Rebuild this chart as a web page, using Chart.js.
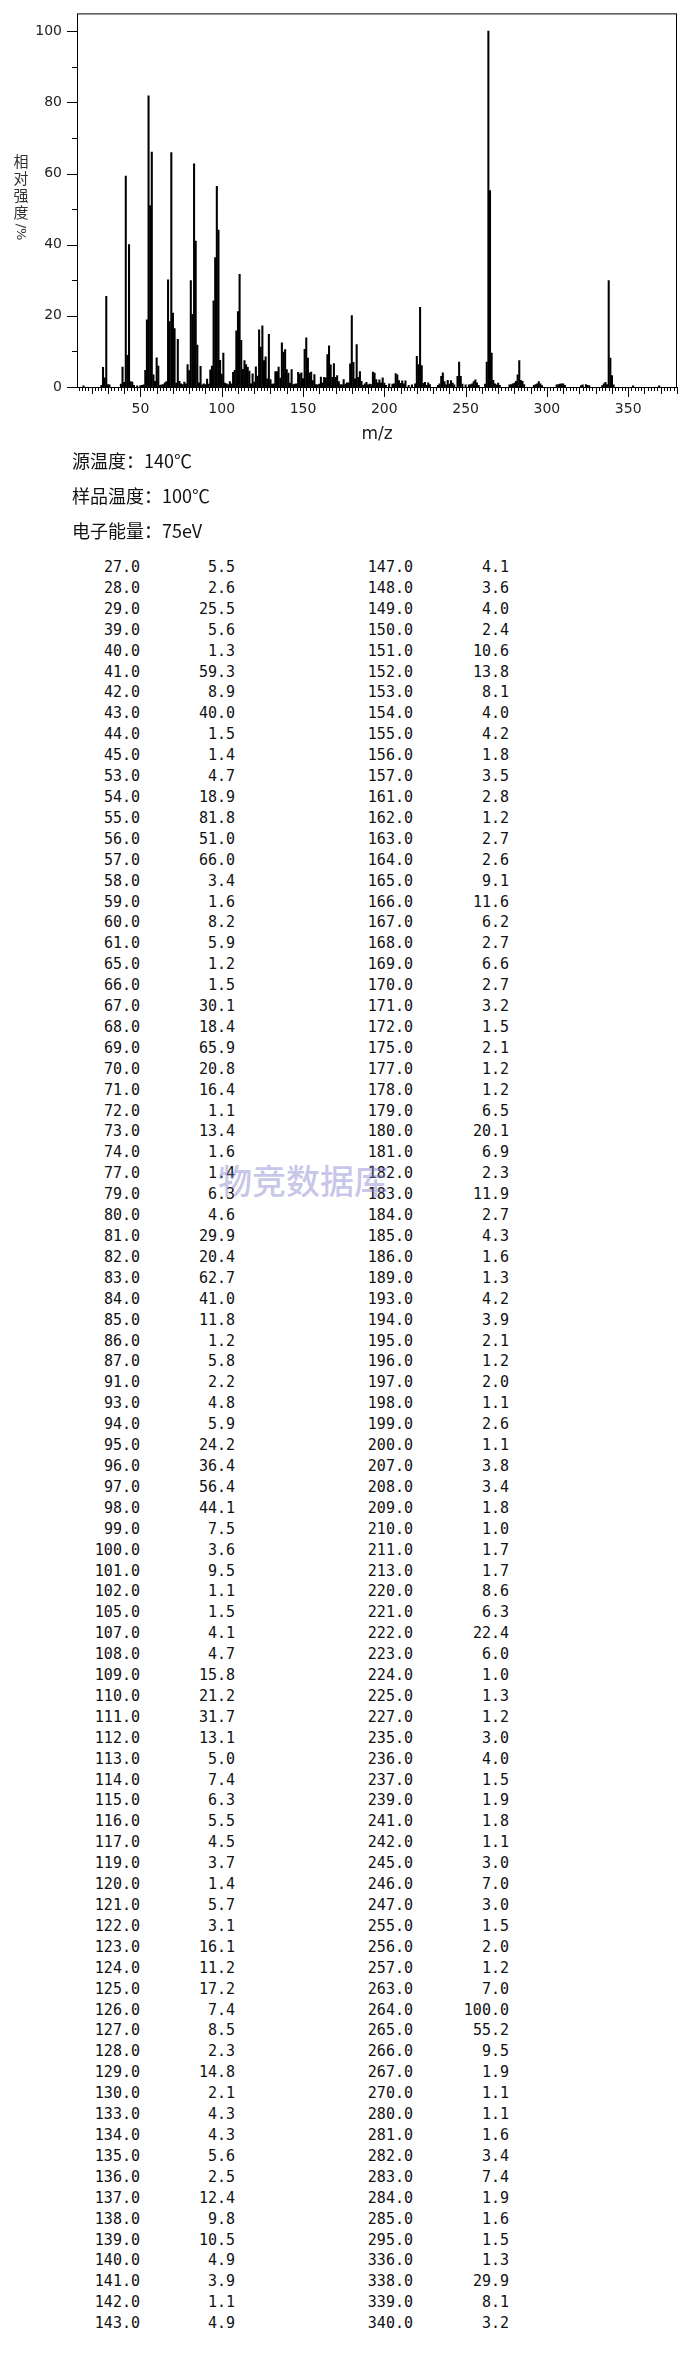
<!DOCTYPE html>
<html lang="zh">
<head>
<meta charset="UTF-8" />
<title>质谱图</title>
<script src="https://cdn.jsdelivr.net/npm/chart.js"></script>
<style>
  body { margin: 0; background: #fff; width: 680px; height: 2353px; position: relative; overflow: hidden; }
  #chartBox { position: absolute; left: 0; top: 0; width: 680px; height: 450px; }
  #yTitle { position: absolute; left: 12px; top: 152px; width: 18px; text-align: center;
            font: 15px "Noto Sans CJK SC", sans-serif; color: #333; }
  #yTitle div { height: 17px; line-height: 17px; }
  #yTitle .rot { height: 24px; position: relative; }
  #yTitle .rot span { position: absolute; left: 50%; top: 50%; white-space: nowrap;
                      transform: translate(-50%, -50%) rotate(90deg); font-family: "DejaVu Sans", sans-serif; font-size: 13px; }
  .cond { position: absolute; left: 72px; font: 18px "Noto Sans CJK SC", sans-serif; color: #111; }
  .col { position: absolute; top: 557px; text-align: right; font: 15px "DejaVu Sans Mono", monospace;
         line-height: 20.9px; color: #111; white-space: pre; }
  #mark { position: absolute; left: 218px; top: 1155px; font: 500 34px "Noto Sans CJK SC", sans-serif;
          color: rgba(130, 125, 205, 0.45); }
</style>
</head>
<body>
<div id="chartBox"><canvas id="ms"></canvas></div>
<div id="yTitle"><div>相</div><div>对</div><div>强</div><div>度</div><div class="rot"><span>/%</span></div></div>
<div id="conds"></div>
<div id="table"></div>
<div id="mark">物竞数据库</div>

<script>
// peaks from the listing (m/z, relative intensity %)
const mzValues = [27, 28, 29, 39, 40, 41, 42, 43, 44, 45, 53, 54, 55, 56, 57, 58, 59, 60, 61, 65, 66,
  67, 68, 69, 70, 71, 72, 73, 74, 77, 79, 80, 81, 82, 83, 84, 85, 86, 87, 91, 93, 94,
  95, 96, 97, 98, 99, 100, 101, 102, 105, 107, 108, 109, 110, 111, 112, 113, 114, 115, 116, 117, 119,
  120, 121, 122, 123, 124, 125, 126, 127, 128, 129, 130, 133, 134, 135, 136, 137, 138, 139, 140, 141, 142, 143,
  147, 148, 149, 150, 151, 152, 153, 154, 155, 156, 157, 161, 162, 163, 164, 165, 166, 167, 168, 169, 170,
  171, 172, 175, 177, 178, 179, 180, 181, 182, 183, 184, 185, 186, 189, 193, 194, 195, 196, 197, 198, 199,
  200, 207, 208, 209, 210, 211, 213, 220, 221, 222, 223, 224, 225, 227, 235, 236, 237, 239, 241, 242, 245,
  246, 247, 255, 256, 257, 263, 264, 265, 266, 267, 270, 280, 281, 282, 283, 284, 285, 295, 336, 338, 339, 340];
const intensities = [5.5, 2.6, 25.5, 5.6, 1.3, 59.3, 8.9, 40.0, 1.5, 1.4, 4.7, 18.9, 81.8, 51.0, 66.0, 3.4, 1.6, 8.2, 5.9, 1.2, 1.5,
  30.1, 18.4, 65.9, 20.8, 16.4, 1.1, 13.4, 1.6, 1.4, 6.3, 4.6, 29.9, 20.4, 62.7, 41.0, 11.8, 1.2, 5.8, 2.2, 4.8, 5.9,
  24.2, 36.4, 56.4, 44.1, 7.5, 3.6, 9.5, 1.1, 1.5, 4.1, 4.7, 15.8, 21.2, 31.7, 13.1, 5.0, 7.4, 6.3, 5.5, 4.5, 3.7,
  1.4, 5.7, 3.1, 16.1, 11.2, 17.2, 7.4, 8.5, 2.3, 14.8, 2.1, 4.3, 4.3, 5.6, 2.5, 12.4, 9.8, 10.5, 4.9, 3.9, 1.1, 4.9,
  4.1, 3.6, 4.0, 2.4, 10.6, 13.8, 8.1, 4.0, 4.2, 1.8, 3.5, 2.8, 1.2, 2.7, 2.6, 9.1, 11.6, 6.2, 2.7, 6.6, 2.7,
  3.2, 1.5, 2.1, 1.2, 1.2, 6.5, 20.1, 6.9, 2.3, 11.9, 2.7, 4.3, 1.6, 1.3, 4.2, 3.9, 2.1, 1.2, 2.0, 1.1, 2.6,
  1.1, 3.8, 3.4, 1.8, 1.0, 1.7, 1.7, 8.6, 6.3, 22.4, 6.0, 1.0, 1.3, 1.2, 3.0, 4.0, 1.5, 1.9, 1.8, 1.1, 3.0,
  7.0, 3.0, 1.5, 2.0, 1.2, 7.0, 100.0, 55.2, 9.5, 1.9, 1.1, 1.1, 1.6, 3.4, 7.4, 1.9, 1.6, 1.5, 1.3, 29.9, 8.1, 3.2];

// small peaks (<1 %) seen only in the plot, estimated
const minorMz = [15, 26, 30, 31, 38, 46, 48, 50, 51, 52, 62, 63, 64, 75, 76, 78, 88, 89, 90, 92,
  103, 104, 106, 118, 131, 132, 144, 145, 146, 158, 159, 160, 173, 174, 176, 187, 188, 190, 191, 192,
  201, 203, 205, 206, 212, 215, 217, 219, 226, 228, 233, 234, 238, 240, 243, 248, 250, 252, 253, 254,
  258, 262, 268, 269, 271, 277, 278, 279, 286, 292, 293, 294, 296, 297, 306, 307, 308, 309, 310, 311,
  321, 322, 324, 325, 326, 334, 335, 337, 341, 353, 369];
const minorIntensity = [0.3, 0.5, 0.7, 0.6, 0.8, 0.5, 0.3, 0.4, 0.5, 0.6, 0.5, 0.6, 0.7, 0.9, 0.7, 0.9, 0.6, 0.9, 0.7, 0.8,
  0.9, 0.7, 0.9, 0.9, 0.8, 0.9, 0.7, 0.8, 0.9, 0.7, 0.6, 0.8, 0.7, 0.6, 0.8, 0.5, 0.9, 0.6, 0.8, 0.7,
  0.5, 0.9, 0.8, 0.9, 0.9, 0.5, 0.6, 0.9, 0.5, 0.7, 0.5, 0.9, 0.6, 0.8, 0.6, 0.8, 0.6, 0.6, 0.7, 0.9,
  0.5, 0.8, 0.9, 0.6, 0.5, 0.6, 0.7, 0.9, 0.7, 0.5, 0.7, 0.9, 0.9, 0.4, 0.6, 0.7, 0.8, 0.9, 0.9, 0.5,
  0.4, 0.6, 0.7, 0.5, 0.4, 0.4, 0.9, 0.7, 0.6, 0.3, 0.3];

const xTickValues = [50, 100, 150, 200, 250, 300, 350];
const yTickValues = [0, 20, 40, 60, 80, 100];
const conditions = ['源温度：140℃', '样品温度：100℃', '电子能量：75eV'];

// text under the plot
conditions.forEach((t, i) => {
  const d = document.createElement('div');
  d.className = 'cond';
  d.style.top = (447 + i * 35) + 'px';
  d.textContent = t;
  document.getElementById('conds').appendChild(d);
});

// two-column peak listing
const half = Math.ceil(mzValues.length / 2);
const colRights = [540, 445, 267, 171]; // right offsets for mz/int pairs
function addCol(lines, right) {
  const d = document.createElement('div');
  d.className = 'col';
  d.style.right = right + 'px';
  d.textContent = lines.join('\n');
  document.getElementById('table').appendChild(d);
}
addCol(mzValues.slice(0, half).map(v => v.toFixed(1)), colRights[0]);
addCol(intensities.slice(0, half).map(v => v.toFixed(1)), colRights[1]);
addCol(mzValues.slice(half).map(v => v.toFixed(1)), colRights[2]);
addCol(intensities.slice(half).map(v => v.toFixed(1)), colRights[3]);

const peaks = mzValues.map((m, i) => ({ x: m, y: intensities[i] }))
  .concat(minorMz.map((m, i) => ({ x: m, y: minorIntensity[i] })))
  .sort((a, b) => a.x - b.x);

// frame + tick marks (minor ones too)
const frameTicks = {
  id: 'frameTicks',
  afterDraw(chart) {
    const { ctx, chartArea: a, scales: { x, y } } = chart;
    ctx.save();
    ctx.strokeStyle = '#000';
    ctx.lineWidth = 1;
    ctx.strokeRect(a.left + 0.5, a.top + 0.5, a.right - a.left - 1, a.bottom - a.top);
    ctx.beginPath();
    for (let v = 12; v <= x.max; v += 2) {
      const px = Math.round(x.getPixelForValue(v)) + 0.5;
      const len = v % 50 === 0 ? 10 : (v % 10 === 0 ? 7 : 4);
      ctx.moveTo(px, a.bottom);
      ctx.lineTo(px, a.bottom + len);
    }
    for (let v = 0; v <= 100; v += 10) {
      const py = Math.round(y.getPixelForValue(v)) + 0.5;
      const len = v % 20 === 0 ? 10 : 5;
      ctx.moveTo(a.left, py);
      ctx.lineTo(a.left - len, py);
    }
    ctx.stroke();
    ctx.restore();
  }
};

new Chart(document.getElementById('ms'), {
  type: 'bar',
  data: {
    datasets: [{
      data: peaks,
      backgroundColor: '#000',
      barThickness: 1.4,
    }],
  },
  options: {
    responsive: true,
    maintainAspectRatio: false,
    animation: false,
    layout: { padding: { top: 3, right: 3, left: 0, bottom: 0 } },
    plugins: { legend: { display: false }, tooltip: { enabled: false } },
    scales: {
      x: {
        type: 'linear',
        min: 11,
        max: 380,
        offset: false,
        afterBuildTicks: s => { s.ticks = xTickValues.map(v => ({ value: v })); },
        afterFit: s => { s.height = 63; },
        grid: { display: false, tickLength: 10 },
        border: { display: false },
        ticks: { font: { family: 'DejaVu Sans', size: 14 }, color: '#222', padding: 4, maxRotation: 0 },
        title: { display: true, text: 'm/z', font: { family: 'DejaVu Sans', size: 17 }, color: '#222',
                 padding: { top: 0, bottom: 5 } },
      },
      y: {
        min: 0,
        max: 105,
        afterBuildTicks: s => { s.ticks = yTickValues.map(v => ({ value: v })); },
        afterFit: s => { s.width = 77; },
        grid: { display: false, tickLength: 10 },
        border: { display: false },
        ticks: { font: { family: 'DejaVu Sans', size: 14 }, color: '#222', padding: 5 },
      },
    },
  },
  plugins: [frameTicks],
});
</script>
</body>
</html>
